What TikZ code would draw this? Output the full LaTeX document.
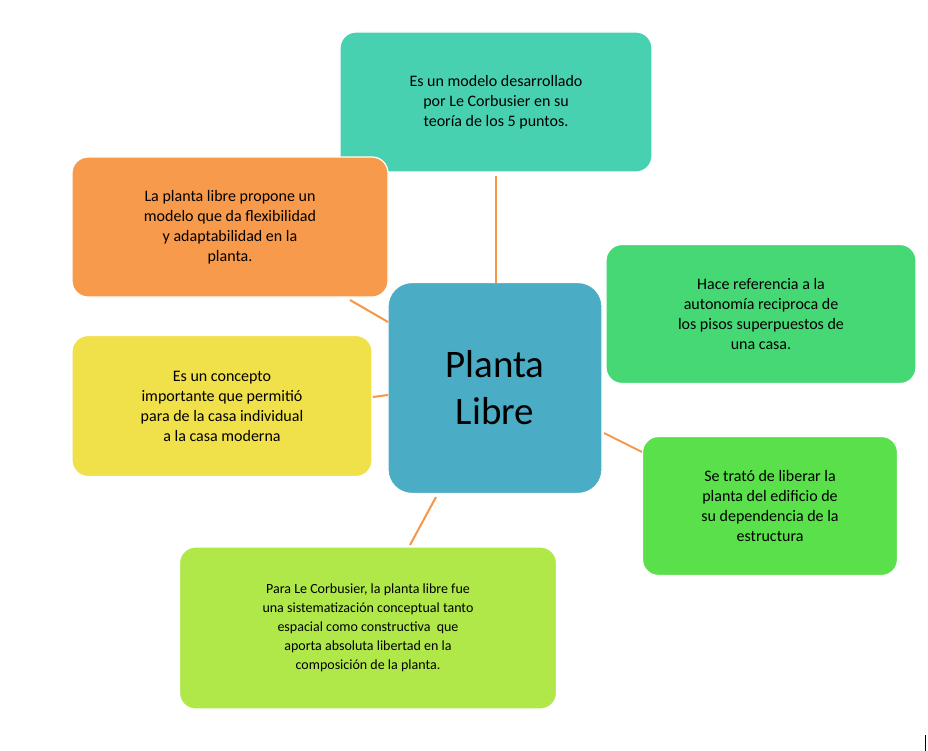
\documentclass[tikz,border=0pt]{standalone}
\usepackage{fontspec}
\setmainfont{Carlito}
\definecolor{cteal}{HTML}{48D1B0}
\definecolor{corange}{HTML}{F89A4B}
\definecolor{cgreen1}{HTML}{47D876}
\definecolor{cyellow}{HTML}{F0E04A}
\definecolor{cblue}{HTML}{4BACC6}
\definecolor{cgreen2}{HTML}{5AE04A}
\definecolor{clime}{HTML}{B0E84A}
\definecolor{cline}{HTML}{F79646}
\begin{document}
\begin{tikzpicture}[x=1pt,y=-1pt,
  box/.style={rounded corners=16pt,draw=white,line width=1.2pt,align=center,inner sep=0pt,font=\fontsize{16}{20}\selectfont},
  conn/.style={draw=cline,line width=2pt}]
\useasboundingbox (0,0) rectangle (928,751);
\fill[white] (0,0) rectangle (928,751);
\node[box,fill=cteal,minimum width=312pt,minimum height=140pt] (top) at (496,102) {Es un modelo desarrollado\\por Le Corbusier en su\\teoría de los 5 puntos.};
\node[box,fill=corange,minimum width=316pt,minimum height=140pt] (ora) at (230,227) {La planta libre propone un\\modelo que da flexibilidad\\y adaptabilidad en la\\planta.};
\node[box,fill=cgreen1,minimum width=310pt,minimum height=139pt] (gr1) at (761,314) {Hace referencia a la\\autonomía reciproca de\\los pisos superpuestos de\\una casa.};
\node[box,fill=cyellow,minimum width=300pt,minimum height=141pt] (yel) at (222,406) {Es un concepto\\importante que permitió\\para de la casa individual\\a la casa moderna};
\node[box,fill=cgreen2,minimum width=255pt,minimum height=139pt] (gr2) at (770,506) {Se trató de liberar la\\planta del edificio de\\su dependencia de la\\estructura};
\node[box,fill=clime,minimum width=377pt,minimum height=162pt,font=\fontsize{14}{19}\selectfont] (bot) at (368,628) {Para Le Corbusier, la planta libre fue\\una sistematización conceptual tanto\\espacial como constructiva\ \ que\\aporta absoluta libertad en la\\composición de la planta.};
\node[box,fill=cblue,minimum width=214pt,minimum height=211pt,rounded corners=24pt,font=\fontsize{39}{47}\selectfont] (ctr) at (495,388) {Planta\\Libre};
\coordinate (c1) at (496,176);
\coordinate (c2) at (350,300);
\coordinate (c3) at (373,397);
\coordinate (c4) at (642,452);
\coordinate (c5) at (410,545);
\draw[conn] (c1) -- (496,283);
\draw[conn] (c2) -- (388,322);
\draw[conn] (c3) -- (388,395);
\draw[conn] (604,433) -- (c4);
\draw[conn] (436,497) -- (c5);
\draw[black,line width=1pt] (925,735) -- (925,751);
\end{tikzpicture}
\end{document}
